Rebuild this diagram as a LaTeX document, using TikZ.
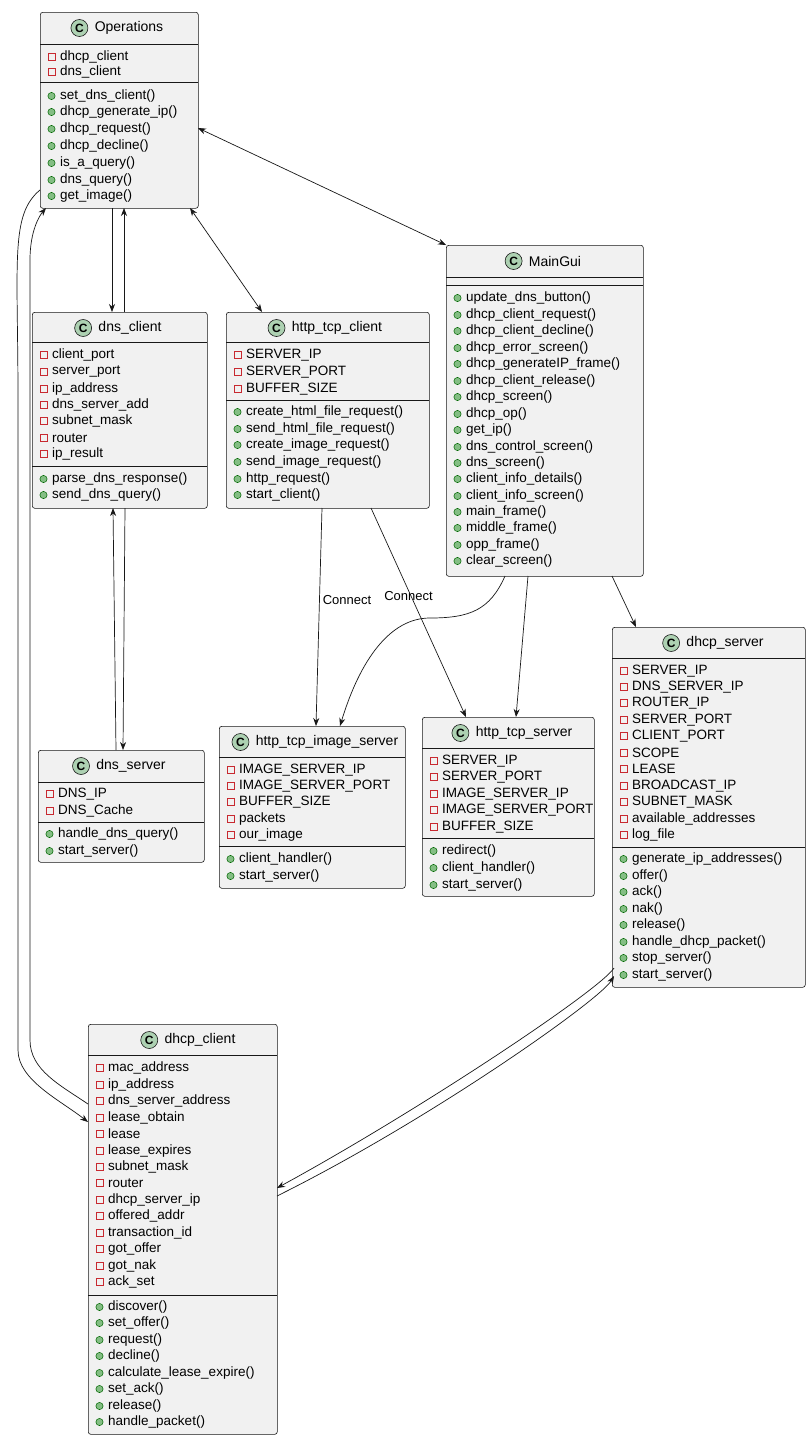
\documentclass[tikz,border=0pt]{standalone}
\usepackage{fontspec}
\setmainfont{Liberation Sans}
\usetikzlibrary{arrows.meta}
\definecolor{boxfill}{HTML}{F1F1F1}
\definecolor{bd}{HTML}{181818}
\definecolor{cgreen}{HTML}{ADD1B2}
\definecolor{pubg}{HTML}{84BE84}
\definecolor{privr}{HTML}{C82930}
\tikzset{
 cbox/.style={draw=bd,fill=boxfill,rounded corners=2.5pt,line width=0.6pt,inner sep=0},
 circ/.style={circle,draw=bd,fill=cgreen,minimum size=17pt,inner sep=0,font=\bfseries\fontsize{12}{12}\selectfont,line width=0.6pt},
 ttl/.style={font=\fontsize{14}{14}\selectfont,label={[circ,xshift=-3pt]left:C}},
 row/.style={anchor=west,font=\fontsize{13.5}{14}\selectfont,inner sep=0},
 edge/.style={draw=bd,line width=0.7pt,-{Stealth[length=8pt,width=6pt]}},
 both/.style={draw=bd,line width=0.7pt,{Stealth[length=8pt,width=6pt]}-{Stealth[length=8pt,width=6pt]}},
 lbl/.style={font=\fontsize{13}{14}\selectfont,fill=white,inner sep=1pt}
}
\newcommand\cls[7]{% name x y w h title titlecenterx
 \node[cbox,minimum width=#4pt,minimum height=#5pt,anchor=north west] (#1) at (#2,#3) {};
 \node[ttl] at (#7+10,#3+16) {#6};}
\newcommand\sep[3]{\draw[bd,line width=0.5pt] (#1,#3) -- (#2,#3);}
\newcommand\pv[3]{\draw[privr,line width=0.7pt] (#1+4,#2-3.5) rectangle (#1+11,#2+3.5); \node[row] at (#1+16,#2) {#3};}
\newcommand\pb[3]{\draw[fill=pubg,draw=green!40!black,line width=0.5pt] (#1+7.5,#2) circle (3.6pt); \node[row] at (#1+16,#2) {#3};}
\begin{document}
\begin{tikzpicture}[x=1pt,y=-1pt]
\useasboundingbox[fill=white] (0,0) rectangle (811,1440);
% Operations
\cls{ops}{40}{12}{158}{196}{Operations}{119}
\sep{40}{198}{44}\sep{40}{198}{82}
\pv{44}{57}{dhcp\_client}\pv{44}{72}{dns\_client}
\pb{44}{96}{set\_dns\_client()}\pb{44}{112}{dhcp\_generate\_ip()}\pb{44}{129}{dhcp\_request()}
\pb{44}{146}{dhcp\_decline()}\pb{44}{163}{is\_a\_query()}\pb{44}{180}{dns\_query()}\pb{44}{196}{get\_image()}
% MainGui
\cls{gui}{446}{245}{197}{331}{MainGui}{545}
\sep{446}{643}{277}\sep{446}{643}{285}
\pb{450}{298}{update\_dns\_button()}\pb{450}{315}{dhcp\_client\_request()}\pb{450}{331}{dhcp\_client\_decline()}
\pb{450}{348}{dhcp\_error\_screen()}\pb{450}{364}{dhcp\_generateIP\_frame()}\pb{450}{381}{dhcp\_client\_release()}
\pb{450}{397}{dhcp\_screen()}\pb{450}{414}{dhcp\_op()}\pb{450}{430}{get\_ip()}
\pb{450}{447}{dns\_control\_screen()}\pb{450}{463}{dns\_screen()}\pb{450}{479}{client\_info\_details()}
\pb{450}{496}{client\_info\_screen()}\pb{450}{512}{main\_frame()}\pb{450}{528}{middle\_frame()}
\pb{450}{545}{opp\_frame()}\pb{450}{561}{clear\_screen()}
% dns_client
\cls{dnsc}{32}{312}{175}{196}{dns\_client}{120}
\sep{32}{207}{342}\sep{32}{207}{466}
\pv{36}{355}{client\_port}\pv{36}{372}{server\_port}\pv{36}{389}{ip\_address}\pv{36}{405}{dns\_server\_add}
\pv{36}{421}{subnet\_mask}\pv{36}{438}{router}\pv{36}{454}{ip\_result}
\pb{36}{479}{parse\_dns\_response()}\pb{36}{495}{send\_dns\_query()}
% http_tcp_client
\cls{htc}{226}{312}{203}{196}{http\_tcp\_client}{327}
\sep{226}{429}{342}\sep{226}{429}{400}
\pv{230}{355}{SERVER\_IP}\pv{230}{372}{SERVER\_PORT}\pv{230}{389}{BUFFER\_SIZE}
\pb{230}{412}{create\_html\_file\_request()}\pb{230}{429}{send\_html\_file\_request()}\pb{230}{445}{create\_image\_request()}
\pb{230}{462}{send\_image\_request()}\pb{230}{479}{http\_request()}\pb{230}{495}{start\_client()}
% dns_server
\cls{dnss}{38}{750}{166}{112}{dns\_server}{121}
\sep{38}{204}{782}\sep{38}{204}{822}
\pv{42}{794}{DNS\_IP}\pv{42}{811}{DNS\_Cache}
\pb{42}{834}{handle\_dns\_query()}\pb{42}{851}{start\_server()}
% http_tcp_image_server
\cls{his}{219}{726}{186}{162}{http\_tcp\_image\_server}{317}
\sep{219}{405}{757}\sep{219}{405}{846}
\pv{223}{770}{IMAGE\_SERVER\_IP}\pv{223}{786}{IMAGE\_SERVER\_PORT}\pv{223}{802}{BUFFER\_SIZE}
\pv{223}{819}{packets}\pv{223}{835}{our\_image}
\pb{223}{859}{client\_handler()}\pb{223}{876}{start\_server()}
% http_tcp_server
\cls{hts}{422}{717}{172}{179}{http\_tcp\_server}{514}
\sep{422}{594}{748}\sep{422}{594}{838}
\pv{426}{761}{SERVER\_IP}\pv{426}{777}{SERVER\_PORT}\pv{426}{794}{IMAGE\_SERVER\_IP}
\pv{426}{810}{IMAGE\_SERVER\_PORT}\pv{426}{827}{BUFFER\_SIZE}
\pb{426}{851}{redirect()}\pb{426}{868}{client\_handler()}\pb{426}{885}{start\_server()}
% dhcp_server
\cls{dhs}{612}{627}{193}{360}{dhcp\_server}{715}
\sep{612}{805}{658}\sep{612}{805}{847}
\pv{616}{671}{SERVER\_IP}\pv{616}{687}{DNS\_SERVER\_IP}\pv{616}{703}{ROUTER\_IP}\pv{616}{720}{SERVER\_PORT}
\pv{616}{736}{CLIENT\_PORT}\pv{616}{753}{SCOPE}\pv{616}{769}{LEASE}\pv{616}{786}{BROADCAST\_IP}
\pv{616}{802}{SUBNET\_MASK}\pv{616}{819}{available\_addresses}\pv{616}{835}{log\_file}
\pb{616}{859}{generate\_ip\_addresses()}\pb{616}{876}{offer()}\pb{616}{892}{ack()}\pb{616}{909}{nak()}
\pb{616}{925}{release()}\pb{616}{942}{handle\_dhcp\_packet()}\pb{616}{958}{stop\_server()}\pb{616}{975}{start\_server()}
% dhcp_client
\cls{dhc}{88}{1024}{189}{410}{dhcp\_client}{190}
\sep{88}{277}{1055}\sep{88}{277}{1295}
\pv{92}{1068}{mac\_address}\pv{92}{1085}{ip\_address}\pv{92}{1101}{dns\_server\_address}\pv{92}{1118}{lease\_obtain}
\pv{92}{1134}{lease}\pv{92}{1151}{lease\_expires}\pv{92}{1167}{subnet\_mask}\pv{92}{1183}{router}
\pv{92}{1200}{dhcp\_server\_ip}\pv{92}{1216}{offered\_addr}\pv{92}{1233}{transaction\_id}\pv{92}{1249}{got\_offer}
\pv{92}{1266}{got\_nak}\pv{92}{1282}{ack\_set}
\pb{92}{1307}{discover()}\pb{92}{1323}{set\_offer()}\pb{92}{1340}{request()}\pb{92}{1356}{decline()}
\pb{92}{1373}{calculate\_lease\_expire()}\pb{92}{1389}{set\_ack()}\pb{92}{1406}{release()}\pb{92}{1422}{handle\_packet()}
% edges
\draw[both] (198,128) -- (446,245);
\draw[edge] (112,208) -- (112,312);
\draw[edge] (124,312) -- (124,208);
\draw[both] (190,208) -- (262,312);
\draw[edge] (116,750) -- (113,508);
\draw[edge] (125,508) -- (123,750);
\draw[edge] (40,190) .. controls (10,215) and (18,260) .. (18,400) -- (18,1050) .. controls (18,1080) and (60,1100) .. (88,1122);
\draw[edge] (88,1104) .. controls (60,1085) and (30,1070) .. (30,1040) -- (30,260) .. controls (30,230) and (40,215) .. (46,208);
\draw[edge] (322,508) -- node[lbl,pos=0.42,right=2pt]{Connect} (316,726);
\draw[edge] (371,508) -- node[lbl,pos=0.42,right=2pt,xshift=-30pt,fill=none]{Connect} (466,717);
\draw[edge] (505,576) .. controls (490,610) and (470,618) .. (430,618) .. controls (390,618) and (360,660) .. (340,726);
\draw[edge] (528,576) -- (516,717);
\draw[edge] (612,576) -- (636,627);
\draw[edge] (614,968) .. controls (600,990) and (420,1110) .. (277,1188);
\draw[edge] (277,1196) .. controls (430,1120) and (600,1000) .. (614,976);
\end{tikzpicture}
\end{document}
